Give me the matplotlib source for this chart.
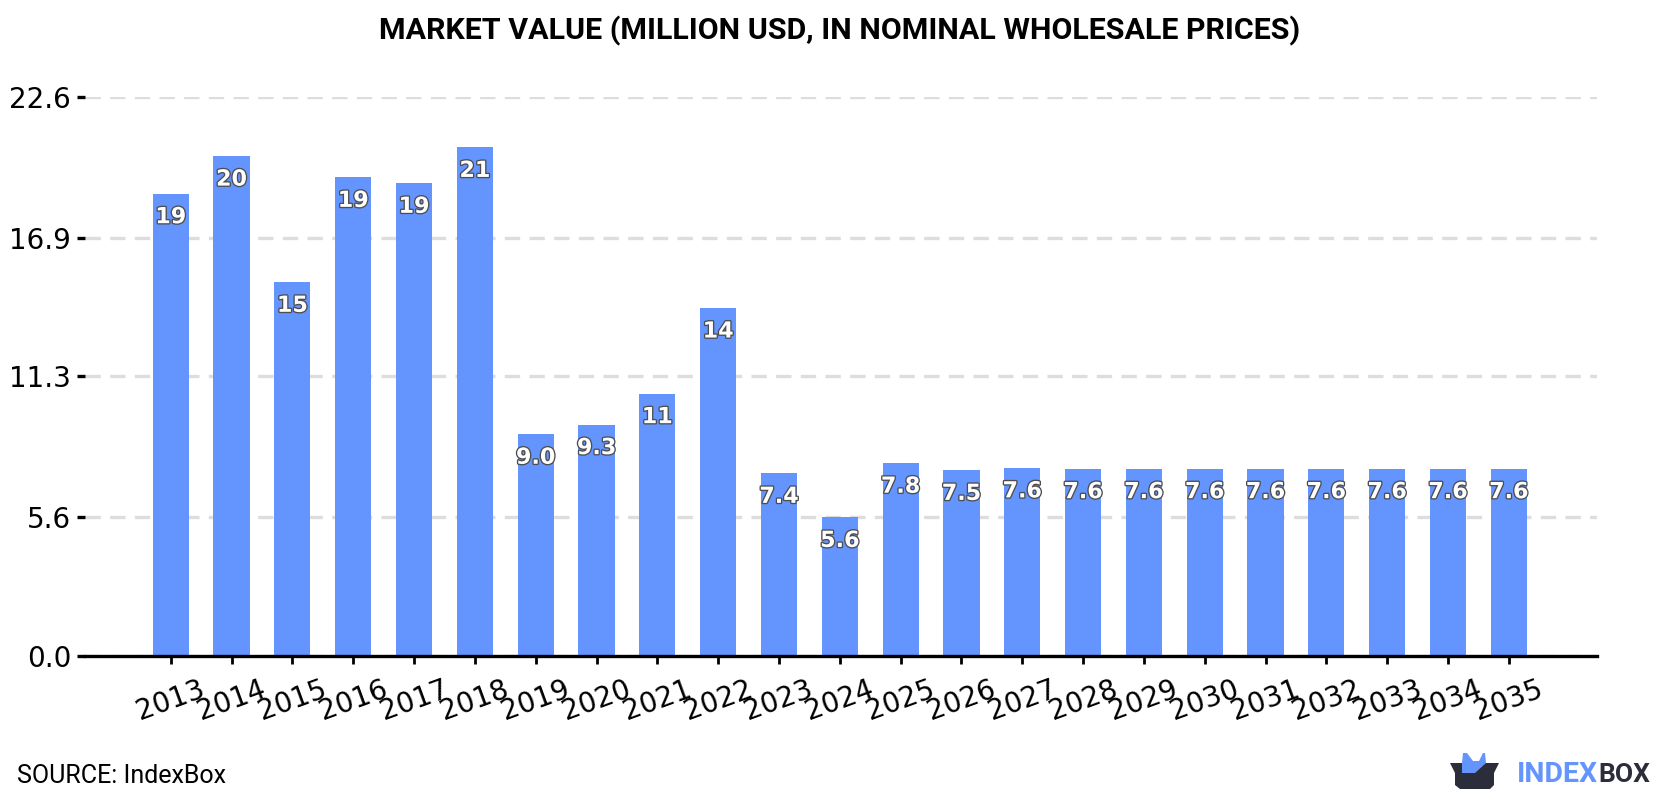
import matplotlib.pyplot as plt
import matplotlib.patheffects as pe
from matplotlib.patches import Polygon

W, H = 1680, 800
BLUE = "#6495ff"
DARK = "#2b2d3a"

years = list(range(2013, 2036))
values = [18.68, 20.2, 15.1, 19.34, 19.1, 20.55, 8.96, 9.35, 10.6, 14.06, 7.38,
          5.6, 7.79, 7.5, 7.6, 7.57, 7.57, 7.57, 7.57, 7.57, 7.57, 7.57, 7.57]
y_ticks = [0.0, 5.6, 11.3, 16.9, 22.6]
title = "MARKET VALUE (MILLION USD, IN NOMINAL WHOLESALE PRICES)"
source = "SOURCE: IndexBox"


def fmt_value(v):
    return f"{v:.0f}" if v >= 10 else f"{v:.1f}"


def px(x, y):
    """Pixel coordinates (origin top left) to figure fraction."""
    return x / W, 1 - y / H


fig = plt.figure(figsize=(W / 100, H / 100), dpi=100)
ax = fig.add_axes([85 / W, (H - 656) / H, (1597 - 85) / W, (656 - 96.7) / H])

ax.bar(years, values, width=0.595, color=BLUE, zorder=3)
ax.set_xlim(2013 - 1.41, 2035 + 1.45)
ax.set_ylim(0, 22.6)

ax.set_yticks(y_ticks, [f"{t:.1f}" for t in y_ticks])
ax.set_xticks(years, [str(y) for y in years], rotation=20)
ax.tick_params(axis="y", length=6, width=2.4, labelsize=20, pad=4)
ax.tick_params(axis="x", length=6, width=2, labelsize=20, pad=8)
ax.grid(axis="y", color="#dddddd", lw=2.4, dashes=(4.6, 2.8), zorder=0)
ax.set_axisbelow(True)

for side in ("top", "right", "left"):
    ax.spines[side].set_visible(False)
ax.spines["bottom"].set_linewidth(2.4)
ax.spines["bottom"].set_zorder(4)

# value labels just under the top of each bar
for year, v in zip(years, values):
    ax.annotate(fmt_value(v), (year, v), xytext=(0, -23.5), textcoords="offset pixels",
                ha="center", va="center", fontsize=16, fontweight="bold", color="white",
                zorder=5, path_effects=[pe.withStroke(linewidth=1.9, foreground="#4d4d4d")])

fig.text(*px(840, 31), title, family="Roboto", fontweight="bold", fontsize=21.9,
         ha="center", va="center", color="black")
fig.text(*px(17, 776), source, family="Roboto", fontsize=18, ha="left", va="center",
         color="black")

# logo: open box with blue shape poking out
box = [(1450, 763), (1499, 763), (1494, 773), (1494, 785), (1490, 789), (1460, 789),
       (1455, 785), (1455, 773)]
blue_shape = [(1462, 773), (1462, 763), (1463, 753), (1467, 753), (1473, 761), (1479, 761),
              (1483, 753), (1485, 753), (1486, 763), (1475, 773)]
for shape, colour in ((box, DARK), (blue_shape, BLUE)):
    fig.add_artist(Polygon([px(*p) for p in shape], closed=True, color=colour, lw=0,
                           transform=fig.transFigure))
fig.text(*px(1517, 775), "INDEX", family="Roboto", fontweight="bold", fontsize=20.5,
         color=BLUE, ha="left", va="center")
fig.text(*px(1598, 775), "BOX", family="Roboto", fontweight="bold", fontsize=19,
         color=DARK, ha="left", va="center")

fig.savefig("out.png", dpi=100)
